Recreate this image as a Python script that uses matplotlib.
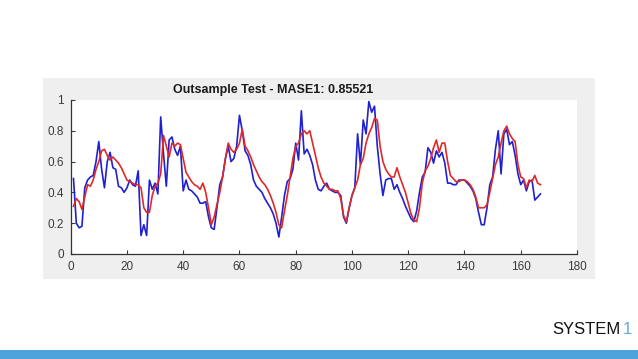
import matplotlib.pyplot as plt
import matplotlib.patches as mpatches
import numpy as np

# forecast (red) and actual (blue) series, points 1..167
actual = [0.49,0.20,0.17,0.18,0.43,0.48,0.50,0.51,0.60,0.73,
          0.55,0.43,0.60,0.66,0.56,0.55,0.44,0.43,0.40,0.43,
          0.48,0.45,0.44,0.54,0.12,0.19,0.12,0.48,0.42,0.46,
          0.39,0.89,0.65,0.44,0.74,0.76,0.68,0.64,0.70,0.41,
          0.48,0.42,0.41,0.39,0.37,0.33,0.33,0.34,0.24,0.17,
          0.16,0.30,0.45,0.50,0.62,0.70,0.60,0.62,0.70,0.90,
          0.80,0.67,0.64,0.58,0.48,0.44,0.42,0.40,0.36,0.33,
          0.30,0.26,0.20,0.11,0.24,0.38,0.47,0.49,0.55,0.72,
          0.61,0.93,0.65,0.68,0.64,0.58,0.48,0.42,0.41,0.44,
          0.46,0.42,0.41,0.40,0.40,0.38,0.24,0.20,0.30,0.38,
          0.43,0.78,0.58,0.87,0.78,0.99,0.92,0.96,0.70,0.52,
          0.38,0.48,0.49,0.49,0.42,0.45,0.40,0.36,0.31,0.27,
          0.23,0.21,0.28,0.40,0.50,0.53,0.69,0.66,0.59,0.67,
          0.63,0.66,0.59,0.46,0.46,0.45,0.45,0.48,0.48,0.48,
          0.46,0.44,0.41,0.36,0.27,0.19,0.19,0.30,0.45,0.50,
          0.68,0.80,0.52,0.78,0.81,0.71,0.73,0.64,0.52,0.45,
          0.48,0.41,0.47,0.48,0.35,0.37,0.39]

forecast = [0.31,0.36,0.34,0.29,0.37,0.45,0.44,0.48,0.55,0.60,
            0.67,0.68,0.64,0.61,0.63,0.61,0.59,0.56,0.52,0.48,
            0.47,0.46,0.45,0.45,0.43,0.30,0.27,0.27,0.38,0.44,
            0.46,0.52,0.77,0.70,0.63,0.72,0.70,0.72,0.71,0.62,
            0.53,0.50,0.47,0.45,0.44,0.42,0.46,0.40,0.30,0.19,
            0.24,0.32,0.40,0.50,0.62,0.72,0.68,0.66,0.68,0.72,
            0.81,0.70,0.67,0.63,0.58,0.54,0.50,0.47,0.45,0.42,
            0.38,0.33,0.27,0.19,0.17,0.28,0.38,0.50,0.62,0.70,
            0.72,0.78,0.80,0.78,0.80,0.72,0.64,0.56,0.50,0.46,
            0.44,0.42,0.42,0.41,0.41,0.36,0.25,0.21,0.30,0.38,
            0.43,0.48,0.58,0.62,0.72,0.78,0.82,0.88,0.87,0.70,
            0.60,0.55,0.52,0.50,0.50,0.56,0.50,0.45,0.40,0.33,
            0.26,0.22,0.21,0.30,0.46,0.54,0.57,0.62,0.69,0.74,
            0.66,0.72,0.72,0.60,0.51,0.49,0.47,0.47,0.48,0.48,
            0.47,0.45,0.42,0.37,0.30,0.30,0.30,0.32,0.40,0.49,
            0.58,0.63,0.72,0.80,0.83,0.78,0.75,0.73,0.58,0.50,
            0.49,0.43,0.48,0.47,0.51,0.46,0.45]

x = np.arange(1, len(actual) + 1)
xticks = np.arange(0, 181, 20)
yticks = [0, 0.2, 0.4, 0.6, 0.8, 1]
ytick_labels = ["0", "0.2", "0.4", "0.6", "0.8", "1"]

plt.rcParams['font.family'] = ['Liberation Sans', 'DejaVu Sans']

fig = plt.figure(figsize=(6.38, 3.59), dpi=100)
fig.patch.set_facecolor('white')

# grey matlab figure panel (behind the axes)
panel = mpatches.Rectangle((0.0674, 0.223), 0.865, 0.56, transform=fig.transFigure,
                           facecolor='#efefef', edgecolor='none', zorder=-5)
fig.patches.append(panel)

ax = fig.add_axes([0.1108, 0.2925, 0.7936, 0.429])
ax.set_zorder(2)
ax.set_facecolor('white')
ax.plot(x, actual, color='#2020d0', lw=1.2)
ax.plot(x, forecast, color='#e02828', lw=1.2)

ax.set_xlim(0, 180)
ax.set_ylim(0, 1)
ax.set_xticks(xticks)
ax.set_yticks(yticks)
ax.set_yticklabels(ytick_labels)
ax.tick_params(direction='in', length=3, labelsize=8.5, colors='#3a3a3a', pad=5)
for s in ['top', 'right']:
    ax.spines[s].set_visible(False)
for s in ['left', 'bottom']:
    ax.spines[s].set_color('#333333')
    ax.spines[s].set_linewidth(0.9)

fig.text(0.428, 0.749, "Outsample Test - MASE1: 0.85521", ha='center', va='center',
         fontsize=9, fontweight='bold', color='#1a1a1a')

# footer bar and logo
bar = mpatches.Rectangle((0, 0), 1, 0.025, transform=fig.transFigure,
                         facecolor='#4ea3dc', edgecolor='none')
fig.patches.append(bar)
fig.text(0.866, 0.062, "SYSTEM", ha='left', va='bottom', fontsize=12, color='#111111')
fig.text(0.976, 0.062, "1", ha='left', va='bottom', fontsize=12, color='#5aaee0')

fig.savefig('out.png', dpi=100)
